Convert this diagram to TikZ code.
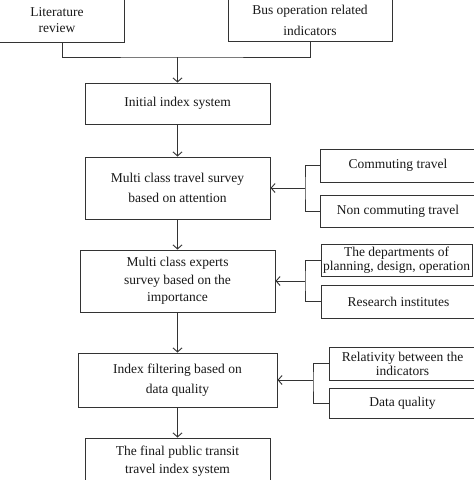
\documentclass[tikz,border=0pt]{standalone}
\usepackage{fontspec}
\setmainfont{Liberation Serif}
\usetikzlibrary{arrows.meta}
\definecolor{ln}{HTML}{333333}
\begin{document}
\begin{tikzpicture}[x=1pt,y=-1pt,
  box/.style={draw=ln,line width=1pt,rectangle,inner sep=0pt,align=center,text=black!90,
    font=\fontsize{13.5}{17}\selectfont},
  conn/.style={draw=ln,line width=1pt},
  arr/.style={conn,-{Straight Barb[length=4pt,width=9pt,line width=0.9pt]}}]
\useasboundingbox[fill=white] (0,0) rectangle (474,480);
% top sources
\node[box,minimum width=134pt,minimum height=43pt,font=\fontsize{13.5}{16}\selectfont] (lit) at (57,20.5) {Literature\\review};
\node[box,minimum width=164pt,minimum height=43pt,font=\fontsize{13.5}{21}\selectfont] (bus) at (310,20) {Bus operation related\\indicators};
% main chain
\node[box,minimum width=185pt,minimum height=41pt] (init) at (177.5,103.5) {Initial index system};
\node[box,minimum width=185pt,minimum height=62pt,font=\fontsize{13.5}{20}\selectfont] (travel) at (177.5,188) {Multi class travel survey\\based on attention};
\node[box,minimum width=195pt,minimum height=62pt,font=\fontsize{13.5}{17.5}\selectfont] (experts) at (177.5,281) {Multi class experts\\survey based on the\\importance};
\node[box,minimum width=199pt,minimum height=54pt,font=\fontsize{13.5}{20}\selectfont] (filter) at (177.5,380) {Index filtering based on\\data quality};
\node[box,minimum width=185pt,minimum height=46pt,font=\fontsize{13.5}{18}\selectfont] (final) at (177.5,461) {The final public transit\\travel index system};
% side inputs
\node[box,minimum width=156pt,minimum height=33pt] (comm) at (398,165.5) {Commuting travel};
\node[box,minimum width=156pt,minimum height=32pt] (noncomm) at (398,211) {Non commuting travel};
\node[box,minimum width=151pt,minimum height=32pt,font=\fontsize{13.5}{14}\selectfont] (dept) at (396.5,260) {The departments of\\planning, design, operation};
\node[box,minimum width=155pt,minimum height=33pt] (inst) at (398.5,301.5) {Research institutes};
\node[box,minimum width=147pt,minimum height=33pt,font=\fontsize{13.5}{14}\selectfont] (rel) at (402.5,363.5) {Relativity between the\\indicators};
\node[box,minimum width=147pt,minimum height=30pt] (dq) at (402.5,403) {Data quality};
% junctions
\coordinate (j1) at (177.5,57);
\coordinate (b1) at (305,188);
\coordinate (b2) at (305,281);
\coordinate (b3) at (313,380);
% connectors
\draw[conn] ([xshift=5.5pt]lit.south) |- (j1) -| (bus.south);
\draw[arr] (j1) -- (init.north);
\draw[arr] (init.south) -- (travel.north);
\draw[arr] (travel.south) -- (experts.north);
\draw[arr] (experts.south) -- (filter.north);
\draw[arr] (filter.south) -- (final.north);
\draw[conn] (comm.west) -| (b1) |- (noncomm.west);
\draw[arr] (b1) -- (travel.east |- b1);
\draw[conn] (dept.west) -| (b2) |- (inst.west);
\draw[arr] (b2) -- (experts.east |- b2);
\draw[conn] (rel.west) -| (b3) |- (dq.west);
\draw[arr] (b3) -- (filter.east |- b3);
\end{tikzpicture}
\end{document}
